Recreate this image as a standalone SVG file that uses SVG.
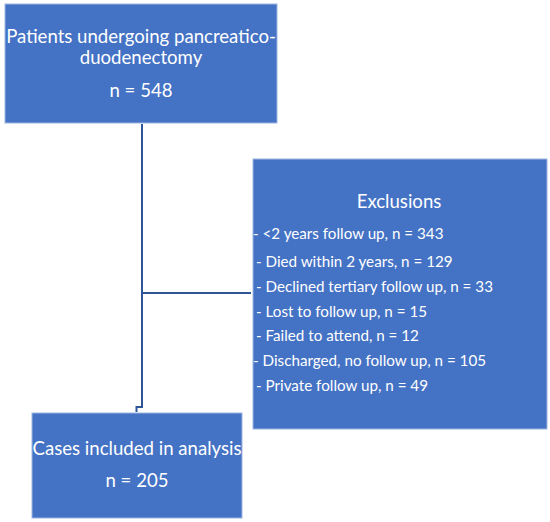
<svg xmlns="http://www.w3.org/2000/svg" width="550" height="522" viewBox="0 0 550 522">
<style>
.box{fill:#4472C4;stroke:#9db5e2;stroke-width:1}
.t{fill:#ffffff;font-family:Lato,"Liberation Sans",sans-serif}
.big{font-size:18.6px}
.sm{font-size:15.2px}
.c{text-anchor:middle}
.ln{fill:none;stroke:#2F5597;stroke-width:2}
</style>
<rect width="550" height="522" fill="#ffffff"/>
<g id="connectors">
<path class="ln" d="M142,124 V407 H136.5 V412"/>
<path class="ln" d="M142,293 H251"/>
</g>
<g id="patients">
<rect class="box" x="5" y="4" width="272" height="119"/>
<text class="t big c" x="141" y="43">Patients undergoing pancreatico-</text>
<text class="t big c" x="141" y="64">duodenectomy</text>
<text class="t big c" x="141" y="97">n = 548</text>
</g>
<g id="exclusions">
<rect class="box" x="253" y="159" width="294" height="270"/>
<text class="t big c" x="399" y="208">Exclusions</text>
<text class="t sm" x="253" y="239">- &lt;2 years follow up, n = 343</text>
<text class="t sm" x="256" y="267">- Died within 2 years, n = 129</text>
<text class="t sm" x="256" y="292">- Declined tertiary follow up, n = 33</text>
<text class="t sm" x="256" y="317">- Lost to follow up, n = 15</text>
<text class="t sm" x="256" y="341">- Failed to attend, n = 12</text>
<text class="t sm" x="253" y="366">- Discharged, no follow up, n = 105</text>
<text class="t sm" x="256" y="391">- Private follow up, n = 49</text>
</g>
<g id="cases">
<rect class="box" x="32" y="413" width="210" height="105"/>
<text class="t big c" x="137" y="455">Cases included in analysis</text>
<text class="t big c" x="137" y="487">n = 205</text>
</g>
</svg>
